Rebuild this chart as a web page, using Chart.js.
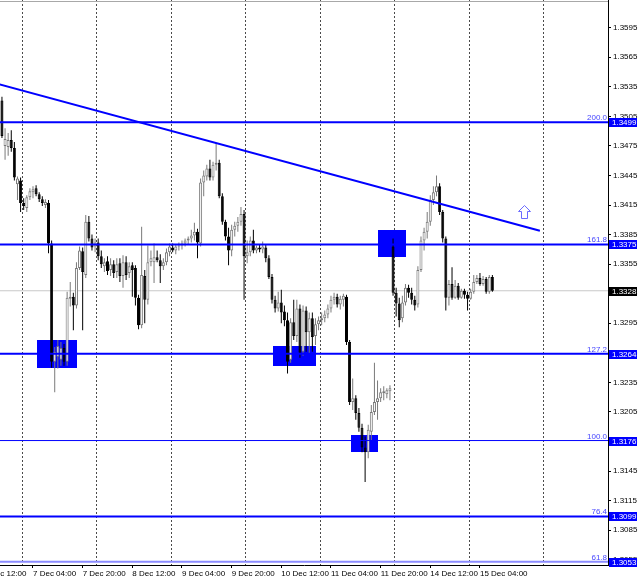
<!DOCTYPE html>
<html>
<head>
<meta charset="utf-8">
<title>GBPUSD H1</title>
<script src="https://cdn.jsdelivr.net/npm/chart.js@4.4.1/dist/chart.umd.min.js"></script>
<style>
  html, body { margin: 0; padding: 0; background: #fff; }
  #myChart { display: block; }
</style>
</head>
<body>
<canvas id="myChart" width="640" height="581"></canvas>
<script>
const ctx = document.getElementById('myChart').getContext('2d');

// hourly candles, bar 0 = 4 Dec 18:00
const opens = [
  1.3521,1.3475,1.3474,1.3481,1.3473,1.3436,1.3440,1.3417,1.3412,1.3423,
  1.3428,1.3432,1.3426,1.3421,1.3415,1.3417,1.3376,1.3256,1.3261,1.3258,
  1.3270,1.3256,1.3320,1.3322,1.3313,1.3351,1.3368,1.3344,1.3398,1.3381,
  1.3373,1.3377,1.3363,1.3353,1.3358,1.3349,1.3355,1.3347,1.3356,1.3343,
  1.3357,1.3346,1.3354,1.3351,1.3321,1.3293,1.3343,1.3319,1.3357,1.3357,
  1.3362,1.3359,1.3353,1.3357,1.3367,1.3372,1.3369,1.3373,1.3374,1.3376,
  1.3379,1.3381,1.3384,1.3388,1.3376,1.3438,1.3444,1.3452,1.3443,1.3456,
  1.3458,1.3424,1.3398,1.3383,1.3369,1.3390,1.3394,1.3398,1.3406,1.3363,
  1.3367,1.3379,1.3369,1.3372,1.3370,1.3372,1.3361,1.3342,1.3319,1.3310,
  1.3316,1.3307,1.3298,1.3258,1.3296,1.3282,1.3310,1.3266,1.3308,1.3286,
  1.3300,1.3282,1.3294,1.3298,1.3300,1.3304,1.3310,1.3319,1.3322,1.3314,
  1.3319,1.3322,1.3276,1.3215,1.3219,1.3204,1.3189,1.3169,1.3164,1.3185,
  1.3205,1.3215,1.3219,1.3224,1.3223,1.3226,1.3373,1.3326,1.3315,1.3300,
  1.3316,1.3331,1.3326,1.3319,1.3314,1.3349,1.3379,1.3388,1.3398,1.3420,
  1.3428,1.3434,1.3408,1.3381,1.3321,1.3335,1.3321,1.3333,1.3321,1.3328,
  1.3324,1.3320,1.3327,1.3337,1.3341,1.3335,1.3340,1.3327,1.3342
];
const highs = [
  1.3525,1.3493,1.3488,1.3491,1.3479,1.3444,1.3443,1.3422,1.3425,1.3432,
  1.3434,1.3435,1.3428,1.3424,1.3421,1.3420,1.3379,1.3271,1.3278,1.3276,
  1.3274,1.3327,1.3337,1.3326,1.3357,1.3373,1.3372,1.3405,1.3404,1.3385,
  1.3381,1.3381,1.3369,1.3361,1.3363,1.3361,1.3359,1.3361,1.3361,1.3364,
  1.3363,1.3357,1.3357,1.3354,1.3324,1.3393,1.3349,1.3374,1.3369,1.3376,
  1.3369,1.3365,1.3361,1.3371,1.3376,1.3376,1.3375,1.3377,1.3379,1.3381,
  1.3383,1.3390,1.3397,1.3391,1.3442,1.3450,1.3456,1.3461,1.3459,1.3478,
  1.3461,1.3427,1.3400,1.3392,1.3395,1.3398,1.3403,1.3413,1.3410,1.3379,
  1.3383,1.3390,1.3374,1.3375,1.3378,1.3375,1.3364,1.3345,1.3323,1.3327,
  1.3329,1.3313,1.3306,1.3300,1.3319,1.3319,1.3314,1.3313,1.3312,1.3306,
  1.3306,1.3300,1.3302,1.3306,1.3308,1.3314,1.3323,1.3326,1.3325,1.3323,
  1.3325,1.3324,1.3278,1.3239,1.3222,1.3209,1.3193,1.3180,1.3192,1.3212,
  1.3255,1.3237,1.3229,1.3231,1.3229,1.3232,1.3381,1.3331,1.3321,1.3323,
  1.3335,1.3334,1.3331,1.3323,1.3353,1.3383,1.3392,1.3408,1.3425,1.3434,
  1.3445,1.3437,1.3410,1.3383,1.3339,1.3352,1.3339,1.3336,1.3330,1.3330,
  1.3327,1.3330,1.3344,1.3344,1.3346,1.3343,1.3342,1.3344,1.3344
];
const lows = [
  1.3483,1.3461,1.3465,1.3469,1.3440,1.3420,1.3408,1.3410,1.3408,1.3420,
  1.3422,1.3424,1.3418,1.3414,1.3412,1.3366,1.3250,1.3225,1.3249,1.3252,
  1.3252,1.3252,1.3312,1.3288,1.3310,1.3349,1.3288,1.3341,1.3378,1.3369,
  1.3367,1.3359,1.3351,1.3347,1.3344,1.3343,1.3341,1.3341,1.3337,1.3331,
  1.3339,1.3341,1.3322,1.3313,1.3289,1.3290,1.3295,1.3314,1.3353,1.3336,
  1.3357,1.3336,1.3349,1.3354,1.3363,1.3367,1.3365,1.3369,1.3370,1.3373,
  1.3375,1.3377,1.3379,1.3361,1.3373,1.3424,1.3440,1.3440,1.3440,1.3450,
  1.3422,1.3395,1.3379,1.3354,1.3363,1.3383,1.3388,1.3394,1.3319,1.3356,
  1.3363,1.3366,1.3366,1.3367,1.3366,1.3357,1.3340,1.3315,1.3306,1.3307,
  1.3295,1.3292,1.3244,1.3255,1.3278,1.3276,1.3260,1.3262,1.3266,1.3264,
  1.3266,1.3273,1.3288,1.3293,1.3296,1.3300,1.3306,1.3314,1.3311,1.3309,
  1.3312,1.3273,1.3212,1.3207,1.3197,1.3185,1.3164,1.3134,1.3158,1.3176,
  1.3202,1.3197,1.3215,1.3217,1.3219,1.3217,1.3323,1.3302,1.3291,1.3296,
  1.3313,1.3321,1.3314,1.3308,1.3311,1.3347,1.3369,1.3381,1.3394,1.3415,
  1.3424,1.3405,1.3377,1.3308,1.3313,1.3319,1.3320,1.3319,1.3320,1.3320,
  1.3308,1.3319,1.3325,1.3335,1.3333,1.3333,1.3325,1.3325,1.3327
];
const closes = [
  1.3485,1.3482,1.3481,1.3473,1.3443,1.3442,1.3417,1.3414,1.3423,1.3429,
  1.3431,1.3426,1.3421,1.3417,1.3418,1.3376,1.3256,1.3266,1.3272,1.3270,
  1.3256,1.3321,1.3322,1.3313,1.3351,1.3369,1.3347,1.3398,1.3381,1.3372,
  1.3377,1.3363,1.3355,1.3357,1.3348,1.3355,1.3346,1.3355,1.3343,1.3357,
  1.3344,1.3353,1.3349,1.3321,1.3293,1.3344,1.3319,1.3357,1.3361,1.3362,
  1.3359,1.3353,1.3357,1.3367,1.3373,1.3369,1.3373,1.3374,1.3376,1.3379,
  1.3381,1.3384,1.3388,1.3377,1.3438,1.3445,1.3452,1.3443,1.3456,1.3458,
  1.3424,1.3398,1.3383,1.3369,1.3390,1.3394,1.3398,1.3406,1.3363,1.3367,
  1.3379,1.3369,1.3372,1.3370,1.3373,1.3361,1.3342,1.3319,1.3310,1.3316,
  1.3306,1.3298,1.3256,1.3296,1.3282,1.3310,1.3265,1.3308,1.3286,1.3300,
  1.3281,1.3294,1.3298,1.3300,1.3304,1.3310,1.3319,1.3322,1.3314,1.3320,
  1.3323,1.3276,1.3215,1.3219,1.3204,1.3189,1.3169,1.3164,1.3187,1.3205,
  1.3215,1.3219,1.3225,1.3226,1.3227,1.3229,1.3326,1.3315,1.3298,1.3316,
  1.3331,1.3326,1.3319,1.3313,1.3349,1.3379,1.3388,1.3398,1.3420,1.3428,
  1.3434,1.3408,1.3381,1.3321,1.3335,1.3321,1.3333,1.3321,1.3328,1.3324,
  1.3320,1.3327,1.3337,1.3341,1.3335,1.3340,1.3327,1.3342,1.3328
];

const timeLabels = ['4 Dec 12:00','7 Dec 04:00','7 Dec 20:00','8 Dec 12:00','9 Dec 04:00',
  '9 Dec 20:00','10 Dec 12:00','11 Dec 04:00','11 Dec 20:00','14 Dec 12:00','15 Dec 04:00'];
const labelBars = [-6, 10, 26, 42, 58, 74, 90, 106, 122, 138, 154];

const priceTicks = [1.3595,1.3565,1.3535,1.3505,1.3475,1.3445,1.3415,1.3385,1.3355,1.3325,
  1.3295,1.3265,1.3235,1.3205,1.3175,1.3145,1.3115,1.3085,1.3055];

const levelPrices = [1.3499, 1.3375, 1.3264, 1.3176, 1.3099, 1.3053];
const levelNames = ['200.0', '161.8', '127.2', '100.0', '76.4', '61.8'];
const lastPrice = 1.3328;

const trendBars = [-5, 173.3];
const trendPrices = [1.3541, 1.3389];

const boxFrom = [11.4, 87.2, 121.2, 112.4];
const boxTo = [24.3, 101.2, 130.2, 121.1];
const boxHigh = [1.3278, 1.3272, 1.3390, 1.3182];
const boxLow = [1.3250, 1.3252, 1.3362, 1.3164];

const arrowBar = 168.2;
const arrowPrice = 1.3415;

// visible window
const X_MIN = -0.63, X_MAX = 195.25;
const Y_MIN = 1.30497, Y_MAX = 1.36231;

const FONT = '"Liberation Sans", Arial, sans-serif';
Chart.defaults.font.family = FONT;
Chart.defaults.font.size = 8;
Chart.defaults.color = '#000';

const BLUE = '#0000ff';
const bull = closes.map((c, i) => c >= opens[i]);
const idx = opens.map((o, i) => i);

const gridBars = [];
for (let g = 6.5; g < X_MAX; g += 24) gridBars.push(g);
const xTickValues = labelBars.concat(gridBars).sort((a, b) => a - b);

function hLine(price, color, width, order) {
    return {
        type: 'line',
        data: [{x: X_MIN - 2, y: price}, {x: X_MAX + 2, y: price}],
        borderColor: color,
        borderWidth: width,
        pointRadius: 0,
        order: order
    };
}

const levelWidths = [2, 2, 2, 1, 2, 2];
const levelColors = [BLUE, BLUE, BLUE, BLUE, BLUE, '#8c8cff'];

const datasets = [
    {
        type: 'bar',
        data: idx.map(i => ({x: i, y: [lows[i], highs[i]]})),
        backgroundColor: idx.map(i => bull[i] ? '#7a7a7a' : '#000'),
        barThickness: 1,
        grouped: false,
        borderWidth: 0,
        inflateAmount: 0,
        order: 3
    },
    {
        type: 'bar',
        data: idx.map(i => ({x: i, y: [opens[i], closes[i]]})),
        backgroundColor: idx.map(i => bull[i] ? '#ffffff' : '#000'),
        borderColor: idx.map(i => bull[i] ? '#7a7a7a' : '#000'),
        borderWidth: 1,
        borderSkipped: false,
        barThickness: 3,
        grouped: false,
        inflateAmount: 0,
        order: 2
    },
    hLine(lastPrice, '#c8c8c8', 1, 4),
    {
        type: 'line',
        data: trendBars.map((b, k) => ({x: b, y: trendPrices[k]})),
        borderColor: BLUE,
        borderWidth: 2,
        pointRadius: 0,
        order: 1
    }
];
levelPrices.forEach((p, k) => datasets.push(hLine(p, levelColors[k], levelWidths[k], 1)));

const drawings = {
    id: 'drawings',
    beforeDatasetsDraw(chart) {
        const {ctx, chartArea: a, scales: {x, y}} = chart;
        ctx.save();
        ctx.beginPath();
        ctx.rect(a.left, a.top, a.right - a.left, a.bottom - a.top);
        ctx.clip();
        ctx.fillStyle = BLUE;
        for (let k = 0; k < boxFrom.length; k++) {
            const x0 = Math.round(x.getPixelForValue(boxFrom[k]));
            const x1 = Math.round(x.getPixelForValue(boxTo[k]));
            const y0 = Math.round(y.getPixelForValue(boxHigh[k]));
            const y1 = Math.round(y.getPixelForValue(boxLow[k]));
            ctx.fillRect(x0, y0, x1 - x0, y1 - y0);
        }
        ctx.restore();
    },
    afterDatasetsDraw(chart) {
        const {ctx, chartArea: a, scales: {x, y}} = chart;
        ctx.save();
        // level captions
        ctx.font = '8px ' + FONT;
        ctx.fillStyle = '#4646ff';
        ctx.textAlign = 'right';
        ctx.textBaseline = 'alphabetic';
        levelPrices.forEach((p, k) => {
            ctx.fillText(levelNames[k], a.right - 1, Math.round(y.getPixelForValue(p)) - 2);
        });
        // up arrow
        const ax = Math.round(x.getPixelForValue(arrowBar)) + 0.5;
        const ay = Math.round(y.getPixelForValue(arrowPrice)) + 0.5;
        ctx.beginPath();
        ctx.moveTo(ax, ay);
        ctx.lineTo(ax + 6, ay + 6);
        ctx.lineTo(ax + 3, ay + 6);
        ctx.lineTo(ax + 3, ay + 13);
        ctx.lineTo(ax - 3, ay + 13);
        ctx.lineTo(ax - 3, ay + 6);
        ctx.lineTo(ax - 6, ay + 6);
        ctx.closePath();
        ctx.fillStyle = '#fff';
        ctx.fill();
        ctx.strokeStyle = '#6b6bff';
        ctx.lineWidth = 1;
        ctx.stroke();
        ctx.restore();
    },
    afterDraw(chart) {
        const {ctx, chartArea: a, scales: {y}} = chart;
        ctx.save();
        // frame top and time axis line
        ctx.strokeStyle = '#a8a8a8';
        ctx.lineWidth = 1;
        ctx.beginPath();
        ctx.moveTo(0, 1.5);
        ctx.lineTo(a.right, 1.5);
        ctx.stroke();
        ctx.strokeStyle = '#000';
        ctx.beginPath();
        ctx.moveTo(0, a.bottom + 0.5);
        ctx.lineTo(a.right + 1, a.bottom + 0.5);
        ctx.stroke();
        // price tags on the scale
        ctx.font = '8px ' + FONT;
        ctx.textAlign = 'left';
        ctx.textBaseline = 'middle';
        const tag = (p, bg) => {
            const py = Math.round(y.getPixelForValue(p));
            ctx.fillStyle = bg;
            ctx.fillRect(y.left + 1, py - 4, 28, 9);
            ctx.fillStyle = '#fff';
            ctx.fillText(p.toFixed(4), y.left + 4, py + 0.5);
        };
        levelPrices.forEach(p => tag(p, BLUE));
        tag(lastPrice, '#000');
        ctx.restore();
    }
};

const chartData = {
    type: 'bar',
    data: { datasets: datasets },
    options: {
        responsive: false,
        animation: false,
        devicePixelRatio: 1,
        layout: { padding: 0 },
        plugins: {
            legend: { display: false },
            tooltip: { enabled: false }
        },
        scales: {
            x: {
                type: 'linear',
                position: 'bottom',
                min: X_MIN,
                max: X_MAX,
                offset: false,
                afterBuildTicks: s => { s.ticks = xTickValues.map(v => ({value: v})); },
                afterFit: s => { s.height = 16; s.paddingLeft = 0; s.paddingRight = 0; },
                ticks: {
                    autoSkip: false,
                    maxRotation: 0,
                    minRotation: 0,
                    align: 'start',
                    padding: 1,
                    color: '#000',
                    callback: v => {
                        const k = labelBars.indexOf(v);
                        return k >= 0 ? timeLabels[k] : '';
                    }
                },
                grid: {
                    offset: false,
                    lineWidth: 1,
                    tickLength: 3,
                    color: c => (c.tick && gridBars.includes(c.tick.value)) ? '#4a4a4a' : 'rgba(0,0,0,0)',
                    tickColor: c => (c.tick && labelBars.includes(c.tick.value)) ? '#000' : 'rgba(0,0,0,0)'
                },
                border: { display: false, dash: [2, 2] }
            },
            y: {
                position: 'right',
                min: Y_MIN,
                max: Y_MAX,
                afterBuildTicks: s => { s.ticks = priceTicks.map(v => ({value: v})); },
                afterFit: s => { s.width = 32; s.paddingTop = 0; s.paddingBottom = 0; },
                ticks: {
                    autoSkip: false,
                    padding: 2,
                    color: '#000',
                    callback: v => v.toFixed(4)
                },
                grid: {
                    drawOnChartArea: false,
                    drawTicks: true,
                    tickLength: 3,
                    tickColor: '#000'
                },
                border: { display: true, color: '#000', width: 1 }
            }
        }
    },
    plugins: [drawings]
};

const candleChart = new Chart(ctx, chartData);
</script>
</body>
</html>
